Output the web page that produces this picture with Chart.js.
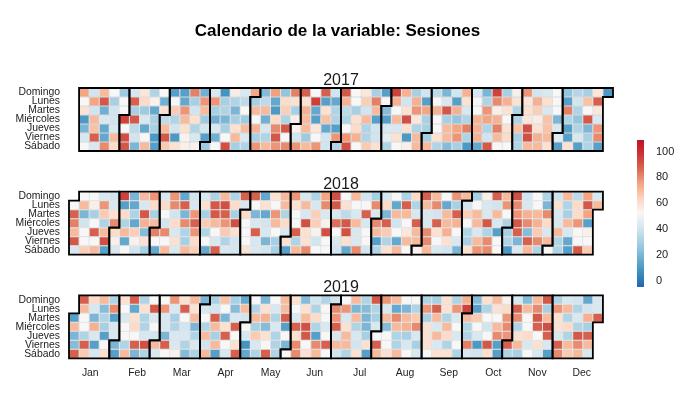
<!DOCTYPE html>
<html><head><meta charset="utf-8">
<script src="https://cdn.jsdelivr.net/npm/chart.js@4.4.1/dist/chart.umd.min.js"></script>
<style>html,body{margin:0;padding:0;background:#fff}#wrap{width:683px;height:393px;position:relative}</style>
</head><body><div id="wrap"><canvas id="c" width="683" height="393"></canvas></div>
<script>
// ---------- data ----------
const years = [2017, 2018, 2019];
const dayNames = ['Domingo','Lunes','Martes','Miércoles','Jueves','Viernes','Sábado'];
const monthLabels = ['Jan','Feb','Mar','Apr','May','Jun','Jul','Aug','Sep','Oct','Nov','Dec'];
const monthTickWeeks = [1.61, 6.27, 10.69, 15.05, 19.52, 23.89, 28.36, 32.85, 37.19, 41.62, 45.99, 50.39];
const legendTicks = [0, 20, 40, 60, 80, 100];
const legendMin = -5, legendMax = 109;

// values of successive days with the same weekday (first such day of the year onward)
const s17Dom = [75,40,70,52,28,42,58,32,52,12,12,82,18,42,8,56,42,74,22,76,25,82,88,52,88,40,90,52,58,30,12,95,72,30,40,35,20,40,72,42,20,95,30,55,78,40,42,52,25,33,30,58,10];
const s17Lun = [52,75,90,30,52,88,62,54,18,52,15,30,78,78,30,32,35,30,35,15,62,60,60,96,12,15,72,52,65,82,52,72,40,72,12,52,42,12,60,52,32,80,72,60,58,72,60,52,12,40,68,88];
const s17Mar = [60,40,18,40,52,30,28,15,60,66,78,40,70,30,32,20,52,70,70,10,65,30,72,15,60,32,35,30,40,70,22,52,60,78,75,72,90,72,42,52,78,55,60,32,60,65,42,52,82,32,52,58];
const s17Mie = [10,70,42,40,95,90,42,30,35,32,70,60,28,18,20,30,28,52,18,62,32,55,70,12,68,32,32,60,70,12,12,70,92,58,30,52,30,25,32,72,75,72,52,32,58,56,68,20,32,25,90,42];
const s17Jue = [20,68,15,42,52,35,15,30,70,40,60,32,40,42,30,60,70,72,42,80,90,54,70,58,15,12,52,62,32,40,42,42,60,32,30,52,70,75,82,72,32,82,60,68,92,60,68,42,12,32,20,78];
const s17Vie = [42,88,15,70,92,40,52,10,90,10,54,42,12,18,52,70,42,30,32,90,52,40,28,52,40,78,78,72,32,40,45,60,10,70,30,60,70,78,32,72,40,70,62,30,92,72,70,45,12,42,30,80];
const s17Sab = [52,42,80,62,90,20,70,12,66,60,55,54,28,52,92,30,32,78,70,78,80,78,70,78,40,32,92,52,66,60,32,52,55,70,70,32,22,30,10,15,90,52,52,32,70,70,60,12,60,12,32,12];

const s18Dom = [52,52,42,40,95,20,70,78,42,78,15,40,42,32,70,32,88,88,15,60,70,78,42,32,75,92,52,70,40,30,42,52,32,62,88,70,52,78,70,30,55,88,70,92,40,52,32,40,70,35,75,42];
const s18Lun = [52,70,55,78,42,12,15,42,62,62,80,88,42,60,90,92,62,42,52,60,52,70,60,70,42,80,90,60,52,52,80,62,15,88,32,70,80,15,30,40,52,42,40,78,80,42,52,20,60,32,62,90,70];
const s18Mar = [88,20,30,66,60,62,32,90,30,52,40,20,78,30,90,88,30,62,20,15,78,32,52,42,65,42,42,35,42,88,42,20,70,70,42,42,40,70,88,65,70,42,70,52,78,72,70,80,42,30,62,75];
const s18Mie = [82,40,52,32,80,32,15,72,70,40,62,80,88,66,70,78,92,52,42,40,70,62,52,92,65,54,85,90,70,42,80,88,40,52,88,42,88,70,72,52,70,90,42,32,90,80,72,62,42,70,78,12];
const s18Jue = [70,52,88,70,62,70,65,22,82,80,42,32,78,32,52,66,60,52,88,42,52,42,88,60,54,92,52,92,42,52,70,66,52,58,70,80,60,72,52,32,42,32,12,30,88,22,66,42,70,42,52,55];
const s18Vie = [90,52,52,92,55,15,54,60,52,52,60,30,62,52,42,32,40,52,42,20,30,60,32,60,40,52,42,60,42,52,12,32,15,70,70,80,52,60,42,30,70,80,52,32,20,88,80,70,32,15,52,52];
const s18Sab = [42,65,70,12,42,52,40,30,15,70,42,70,65,15,88,42,40,60,42,40,30,12,70,80,52,52,40,15,80,40,32,60,70,52,54,70,42,40,20,60,78,80,52,10,42,70,32,52,32,12,90,66];

const s19Dom = [88,62,70,32,60,88,32,52,52,78,60,70,20,30,68,30,15,52,20,52,70,60,22,40,32,40,52,70,32,90,78,70,52,52,32,30,60,32,72,22,60,70,54,42,22,70,90,32,42,40,15,42];
const s19Lun = [70,42,22,80,52,15,60,90,78,42,88,60,42,40,52,22,70,32,60,42,70,52,60,32,52,80,78,20,22,32,42,15,20,32,78,88,60,78,95,12,32,60,62,88,70,80,30,78,70,32,40,42];
const s19Mar = [12,52,20,32,12,42,60,32,42,42,30,52,70,52,88,20,42,40,70,72,32,88,42,70,62,52,78,42,70,20,30,70,80,70,66,30,70,32,42,70,66,52,52,78,80,52,90,70,60,32,42,72,88];
const s19Mie = [70,52,72,30,42,52,62,32,52,42,32,40,20,32,70,60,88,52,30,22,42,12,88,92,32,42,88,60,32,20,42,22,70,72,80,60,42,70,52,32,52,40,70,80,32,52,88,92,60,62,32,30];
const s19Jue = [20,32,42,12,42,52,52,42,40,20,42,42,32,70,30,88,52,42,66,60,32,52,60,90,12,52,42,70,42,30,52,52,32,30,42,60,70,62,42,32,42,52,80,78,60,62,52,88,42,32,90,88];
const s19Vie = [22,88,12,52,20,32,88,92,70,88,42,32,42,40,70,52,60,8,42,52,32,20,80,52,80,88,70,70,40,60,88,52,32,42,30,60,42,32,52,82,10,90,12,88,70,42,60,42,88,70,80,70];
const s19Sab = [88,66,42,60,12,70,20,32,42,52,54,22,32,70,12,42,88,15,32,88,32,52,80,60,70,52,40,32,60,12,70,60,70,52,42,52,60,60,32,42,40,60,12,32,30,52,42,12,80,66,70,42];

const rowsByYear = [
  [s17Dom, s17Lun, s17Mar, s17Mie, s17Jue, s17Vie, s17Sab],
  [s18Dom, s18Lun, s18Mar, s18Mie, s18Jue, s18Vie, s18Sab],
  [s19Dom, s19Lun, s19Mar, s19Mie, s19Jue, s19Vie, s19Sab]
];

// ---------- helpers ----------
const G = 11.52;            // panel period in row units
const DAY = 864e5;
function dayInfo(y, t) {
  const yday = Math.round((t - Date.UTC(y, 0, 1)) / DAY);
  const wd = new Date(t).getUTCDay();
  return { w: Math.floor((yday + 7 - wd) / 7), r: wd };
}
const colorStops = [[-5,[33,102,172]],[8,[67,147,195]],[25,[146,197,222]],[40,[209,229,240]],[52,[247,247,247]],[62,[253,219,199]],[75,[244,165,130]],[88,[214,96,77]],[100,[202,45,48]],[109,[190,20,40]]];
function colorFor(v) {
  if (v <= colorStops[0][0]) return 'rgb(' + colorStops[0][1].join(',') + ')';
  for (let i = 1; i < colorStops.length; i++) {
    const [v1, c1] = colorStops[i];
    if (v <= v1) {
      const [v0, c0] = colorStops[i - 1];
      const t = (v - v0) / (v1 - v0);
      return 'rgb(' + c0.map((c, k) => Math.round(c + (c1[k] - c) * t)).join(',') + ')';
    }
  }
  return 'rgb(' + colorStops[colorStops.length - 1][1].join(',') + ')';
}

const points = [];
years.forEach((y, p) => {
  const jan1 = new Date(Date.UTC(y, 0, 1)).getUTCDay();
  rowsByYear[p].forEach((vals, r) => {
    const off = (r - jan1 + 7) % 7;
    vals.forEach((v, i) => {
      const t = Date.UTC(y, 0, 1 + off + 7 * i);
      const d = dayInfo(y, t);
      points.push({ x: d.w, y: [p * G + r, p * G + r + 1], v: v });
    });
  });
});

const FONT = '"Liberation Sans", Arial, sans-serif';

const outlinePlugin = {
  id: 'monthOutline',
  afterDatasetsDraw(chart) {
    const xs = chart.scales.x, ys = chart.scales.y, ctx = chart.ctx;
    ctx.save();
    ctx.strokeStyle = '#000';
    ctx.lineWidth = 1.8;
    ctx.lineJoin = 'miter';
    years.forEach((y, p) => {
      const X = w => xs.getPixelForValue(w - 0.5);
      const Y = r => ys.getPixelForValue(p * G + r);
      for (let m = 0; m < 12; m++) {
        const f = dayInfo(y, Date.UTC(y, m, 1));
        const l = dayInfo(y, Date.UTC(y, m + 1, 0));
        ctx.beginPath();
        ctx.moveTo(X(f.w), Y(f.r));
        ctx.lineTo(X(f.w + 1), Y(f.r));
        ctx.lineTo(X(f.w + 1), Y(0));
        ctx.lineTo(X(l.w + 1), Y(0));
        ctx.lineTo(X(l.w + 1), Y(l.r + 1));
        ctx.lineTo(X(l.w), Y(l.r + 1));
        ctx.lineTo(X(l.w), Y(7));
        ctx.lineTo(X(f.w), Y(7));
        ctx.closePath();
        ctx.stroke();
      }
    });
    ctx.restore();
  }
};

const textPlugin = {
  id: 'texts',
  afterDraw(chart) {
    const ctx = chart.ctx, ys = chart.scales.y, area = chart.chartArea;
    ctx.save();
    ctx.fillStyle = '#000';
    ctx.font = 'bold 17px ' + FONT;
    ctx.textAlign = 'center';
    ctx.textBaseline = 'middle';
    ctx.fillText('Calendario de la variable: Sesiones', 337.5, 31);
    ctx.font = '16px ' + FONT;
    ctx.fillStyle = '#1a1a1a';
    ctx.textBaseline = 'alphabetic';
    years.forEach((y, p) => {
      ctx.fillText(String(y), (area.left + area.right) / 2, ys.getPixelForValue(p * G) - 3);
    });
    const bx = 637, bw = 7, bTop = 140, bBot = 287;
    const grad = ctx.createLinearGradient(0, bBot, 0, bTop);
    for (let i = 0; i <= 40; i++) {
      const v = legendMin + (legendMax - legendMin) * i / 40;
      grad.addColorStop(i / 40, colorFor(v));
    }
    ctx.fillStyle = grad;
    ctx.fillRect(bx, bTop, bw, bBot - bTop);
    ctx.font = '11px ' + FONT;
    ctx.fillStyle = '#1a1a1a';
    ctx.textAlign = 'left';
    ctx.textBaseline = 'middle';
    legendTicks.forEach(v => {
      const yy = bBot - (v - legendMin) / (legendMax - legendMin) * (bBot - bTop);
      ctx.fillText(String(v), 656, yy);
    });
    ctx.restore();
  }
};

new Chart(document.getElementById('c').getContext('2d'), {
  type: 'bar',
  data: {
    datasets: [{
      data: points,
      backgroundColor: c => colorFor(c.raw ? c.raw.v : 50),
      borderColor: '#bababa',
      borderWidth: 0.5,
      borderSkipped: false,
      inflateAmount: 0,
      barPercentage: 1,
      categoryPercentage: 1
    }]
  },
  options: {
    responsive: false,
    animation: false,
    events: [],
    layout: { padding: { top: 88, right: 70, bottom: 0, left: 0 } },
    plugins: { legend: { display: false }, tooltip: { enabled: false }, title: { display: false } },
    scales: {
      x: {
        type: 'linear', min: -0.5, max: 53.5, offset: false,
        grid: { display: false, drawTicks: false, offset: false },
        border: { display: false },
        afterBuildTicks: s => { s.ticks = monthTickWeeks.map(v => ({ value: v })); },
        afterFit: s => { s.height = 34.7; },
        ticks: {
          autoSkip: false, maxRotation: 0, padding: 9, color: '#222',
          font: { family: FONT, size: 10.4 },
          callback: (v, i) => monthLabels[i]
        }
      },
      y: {
        type: 'linear', reverse: true, min: 0, max: 2 * G + 7, offset: false,
        grid: { display: false, drawTicks: false },
        border: { display: false },
        afterBuildTicks: s => {
          const t = [];
          years.forEach((y, p) => dayNames.forEach((d, r) => t.push({ value: p * G + r + 0.5 })));
          s.ticks = t;
        },
        afterFit: s => { s.width = 69; },
        ticks: {
          autoSkip: false, padding: 9, color: '#222',
          font: { family: FONT, size: 10.4 },
          callback: (v, i) => dayNames[i % 7]
        }
      }
    }
  },
  plugins: [outlinePlugin, textPlugin]
});
</script>
</body></html>
